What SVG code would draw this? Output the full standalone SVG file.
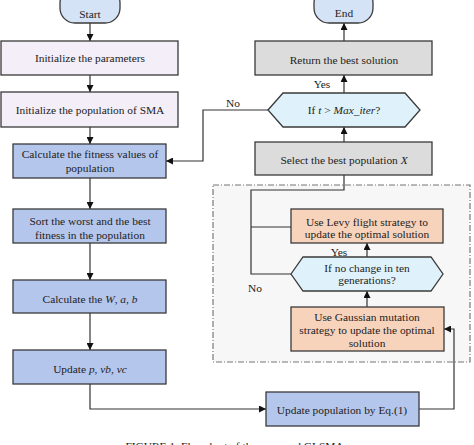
<svg xmlns="http://www.w3.org/2000/svg" width="474" height="445" viewBox="0 0 474 445">
<style>
text{font-family:"Liberation Serif","Times New Roman",serif;font-size:11.4px;fill:#222;text-anchor:middle}
.b{stroke:#3a3a3a;stroke-width:1.3}
.lav{fill:#f3eef7}
.blue{fill:#b5c6ec}
.grey{fill:#dcdcdc}
.peach{fill:#f8d3bc}
.cyan{fill:#dff2fb}
.pill{fill:#d5e3f6}
.c{fill:none;stroke:#333;stroke-width:1.2}
</style>
<defs>
<marker id="ah" viewBox="0 0 10 10" refX="10" refY="5" markerWidth="7" markerHeight="7" orient="auto" markerUnits="userSpaceOnUse">
<path d="M0,0 L10,5 L0,10 Z" fill="#111"/>
</marker>
</defs>
<rect x="213" y="185" width="257" height="177" fill="#f7f7f7" stroke="#777" stroke-width="1.2" stroke-dasharray="6,2,1,2"/>
<g id="connectors">
<path class="c" d="M90,23 V41" marker-end="url(#ah)"/>
<path class="c" d="M90,75 V92" marker-end="url(#ah)"/>
<path class="c" d="M90,127 V144" marker-end="url(#ah)"/>
<path class="c" d="M90,178 V209" marker-end="url(#ah)"/>
<path class="c" d="M90,243 V280" marker-end="url(#ah)"/>
<path class="c" d="M90,313 V350" marker-end="url(#ah)"/>
<path class="c" d="M90,384 V409 H266" marker-end="url(#ah)"/>
<path class="c" d="M419,409 H454 V329 H444" marker-end="url(#ah)"/>
<path class="c" d="M367,307 V291" marker-end="url(#ah)"/>
<path class="c" d="M367,257 V243" marker-end="url(#ah)"/>
<path class="c" d="M291,274 H251 V190 H344 V175"/>
<path class="c" d="M251,227 H291"/>
<path class="c" d="M344,142 V127" marker-end="url(#ah)"/>
<path class="c" d="M344,93 V75" marker-end="url(#ah)"/>
<path class="c" d="M344,41 V23" marker-end="url(#ah)"/>
<path class="c" d="M268,110 H203 V161 H166" marker-end="url(#ah)"/>
<text x="322" y="88">Yes</text>
<text x="233" y="107">No</text>
<text x="339" y="256">Yes</text>
<text x="255" y="292">No</text>
</g>
<g id="start"><rect class="b pill" x="60" y="-12" width="60" height="35" rx="15"/><text x="90" y="18">Start</text></g>
<g id="init-params"><rect class="b lav" x="1" y="41" width="177" height="34"/><text x="90" y="62">Initialize the parameters</text></g>
<g id="init-pop"><rect class="b lav" x="1" y="92" width="177" height="35"/><text x="90" y="114">Initialize the population of SMA</text></g>
<g id="calc-fitness"><rect class="b blue" x="13" y="144" width="153" height="34"/><text x="90" y="158">Calculate the fitness values of</text><text x="90" y="172">population</text></g>
<g id="sort"><rect class="b blue" x="13" y="209" width="153" height="34"/><text x="90" y="225">Sort the worst and the best</text><text x="90" y="239">fitness in the population</text></g>
<g id="calc-wab"><rect class="b blue" x="13" y="280" width="153" height="33"/><text x="90" y="303">Calculate the <tspan font-style="italic">W</tspan>, <tspan font-style="italic">a</tspan>, <tspan font-style="italic">b</tspan></text></g>
<g id="update-p"><rect class="b blue" x="13" y="350" width="153" height="34"/><text x="90" y="373">Update <tspan font-style="italic">p</tspan>, <tspan font-style="italic">vb</tspan>, <tspan font-style="italic">vc</tspan></text></g>
<g id="update-pop"><rect class="b blue" x="266" y="392" width="153" height="34"/><text x="342" y="414">Update population by Eq.(1)</text></g>
<g id="end"><rect class="b pill" x="314" y="-12" width="59" height="35" rx="15"/><text x="344" y="17">End</text></g>
<g id="return"><rect class="b grey" x="255" y="41" width="177" height="34"/><text x="344" y="64">Return the best solution</text></g>
<g id="if-max"><polygon class="b cyan" points="268,110 283,93 405,93 420,110 405,127 283,127"/><text x="344" y="114">If <tspan font-style="italic">t</tspan> &gt; <tspan font-style="italic">Max_iter</tspan>?</text></g>
<g id="select"><rect class="b grey" x="255" y="142" width="177" height="33"/><text x="344" y="164">Select the best population <tspan font-style="italic">X</tspan></text></g>
<g id="levy"><rect class="b peach" x="291" y="209" width="152" height="34"/><text x="367" y="226">Use Levy flight strategy to</text><text x="367" y="238">update the optimal solution</text></g>
<g id="if-change"><polygon class="b cyan" points="291,274 303,257 431,257 443,274 431,291 303,291"/><text x="367" y="272">If no change in ten</text><text x="367" y="284">generations?</text></g>
<g id="gaussian"><rect class="b peach" x="291" y="307" width="153" height="44"/><text x="367" y="321">Use Gaussian mutation</text><text x="367" y="334">strategy to update the optimal</text><text x="367" y="347">solution</text></g>
<text x="236" y="450" font-size="12">FIGURE 1: Flowchart of the proposed GLSMA.</text>
</svg>
